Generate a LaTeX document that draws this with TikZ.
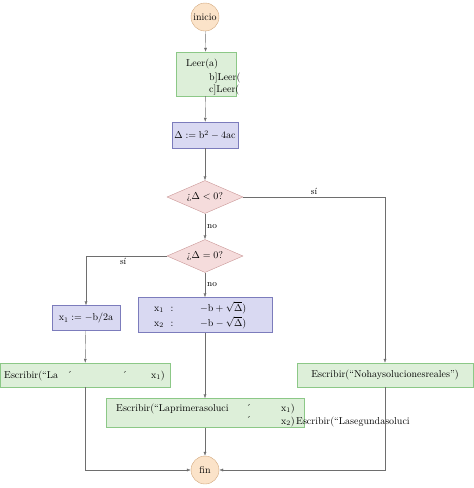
\documentclass[tikz,border=0pt]{standalone}
\usepackage{amssymb}
\usepackage{amsmath}
\usetikzlibrary{shapes, arrows, calc, arrows.meta, positioning}
\definecolor{termfill}{HTML}{FBE3C9}
\definecolor{termline}{HTML}{D2A77C}
\definecolor{iofill}{HTML}{DDEFD9}
\definecolor{ioline}{HTML}{8CC887}
\definecolor{procfill}{HTML}{D9D9F2}
\definecolor{procline}{HTML}{7C7CBC}
\definecolor{decfill}{HTML}{F5DCDC}
\definecolor{decline}{HTML}{C99696}
\definecolor{wire}{HTML}{6E6E6E}
\tikzset{
    -{Latex[length=4pt,width=3pt]}, auto, line width=0.6pt,
    terminal/.style ={circle, draw=termline, fill=termfill, minimum size=28pt, inner sep=0pt},
    iobox/.style = {rectangle, draw=ioline, fill=iofill, inner sep=0pt},
    procbox/.style = {rectangle, draw=procline, fill=procfill, inner sep=0pt},
    decision/.style = {diamond, draw=decline, fill=decfill, inner sep=0pt, aspect=2.3},
    txt/.style = {inner sep=0pt, anchor=base west},
    flow/.style = {draw=wire},
    every edge/.append style = {draw=wire},
    el/.style = {inner sep=2pt, font=\small}
}
\begin{document}
\begin{tikzpicture}[x=1pt, y=-1pt]
  \useasboundingbox (0,0) rectangle (474,488);

  \node[terminal] (inicio) at (205,17) {inicio};

  \node[iobox, minimum width=60pt, minimum height=44pt] (leer) at (206,74) {};
  \node[txt] (leera) at (186,66) {Leer(a)};
  \node[txt] (leerb) at (209,80) {b]Leer(};
  \node[txt] (leerc) at (209,92) {c]Leer(};

  \node[procbox, minimum width=66pt, minimum height=26pt] (disc) at (205,135)
      {$\Delta := \mathrm{b}^2 - 4\mathrm{ac}$};

  \node[decision, minimum width=76pt, minimum height=33pt] (dneg) at (205,197) {¿$\Delta < 0$?};
  \node[decision, minimum width=76pt, minimum height=33pt] (dcero) at (205,256) {¿$\Delta = 0$?};

  \node[procbox, minimum width=68pt, minimum height=25pt] (xuna) at (86,318)
      {$\mathrm{x}_1 := -\mathrm{b}/2\mathrm{a}$};

  \node[procbox, minimum width=134pt, minimum height=35pt] (xdos) at (205,315) {};
  \node[txt] (xdosa) at (154,311) {$\mathrm{x}_1$ \ :};
  \node[txt] (xdosb) at (154,326) {$\mathrm{x}_2$ \ :};
  \node[txt] (xdosc) at (200,311) {$-\mathrm{b}+\sqrt{\Delta})$};
  \node[txt] (xdosd) at (200,326) {$-\mathrm{b}-\sqrt{\Delta})$};

  \node[iobox, minimum width=170pt, minimum height=24pt] (escuna) at (85,375) {};
  \node[txt] (escunaa) at (4,378) {Escribir(“La};
  \node[txt] (escunac) at (67,378) {´};
  \node[txt] (escunad) at (122,378) {´};
  \node[txt] (escunae) at (151,378) {$\mathrm{x}_1$)};

  \node[iobox, minimum width=198pt, minimum height=29pt] (escdos) at (205,413) {};
  \node[txt] (escdosa) at (116,411) {Escribir(“Laprimerasoluci};
  \node[txt] (escdosc) at (246,411) {´};
  \node[txt] (escdosd) at (246,423) {´};
  \node[txt] (escdose) at (281,411) {$\mathrm{x}_1$)};
  \node[txt] (escdosf) at (281,424) {$\mathrm{x}_2$)};
  \node[txt] (escdosg) at (296,424) {Escribir(“Lasegundasoluci};

  \node[iobox, minimum width=176pt, minimum height=24pt] (escno) at (385,375)
      {Escribir(“Nohaysolucionesreales”)};

  \node[terminal] (fin) at (205,470) {fin};

  \path (inicio) edge (leer);
  \path (leer) edge (disc);
  \path (disc) edge (dneg);
  \path (dneg) edge node[el, right] {no} (dcero);
  \path (dcero) edge node[el, right] {no} (xdos);
  \draw[flow] (dneg.east) -| node[el, above, pos=0.25] {sí} (escno.north);
  \draw[flow] (dcero.west) -| node[el, below, pos=0.27] {sí} (xuna.north);
  \path (xuna) edge (escuna);
  \path (xdos) edge (escdos);
  \path (escdos) edge (fin);
  \draw[flow] (escuna.south) |- (fin.west);
  \draw[flow] (escno.south) |- (fin.east);
\end{tikzpicture}
\end{document}
